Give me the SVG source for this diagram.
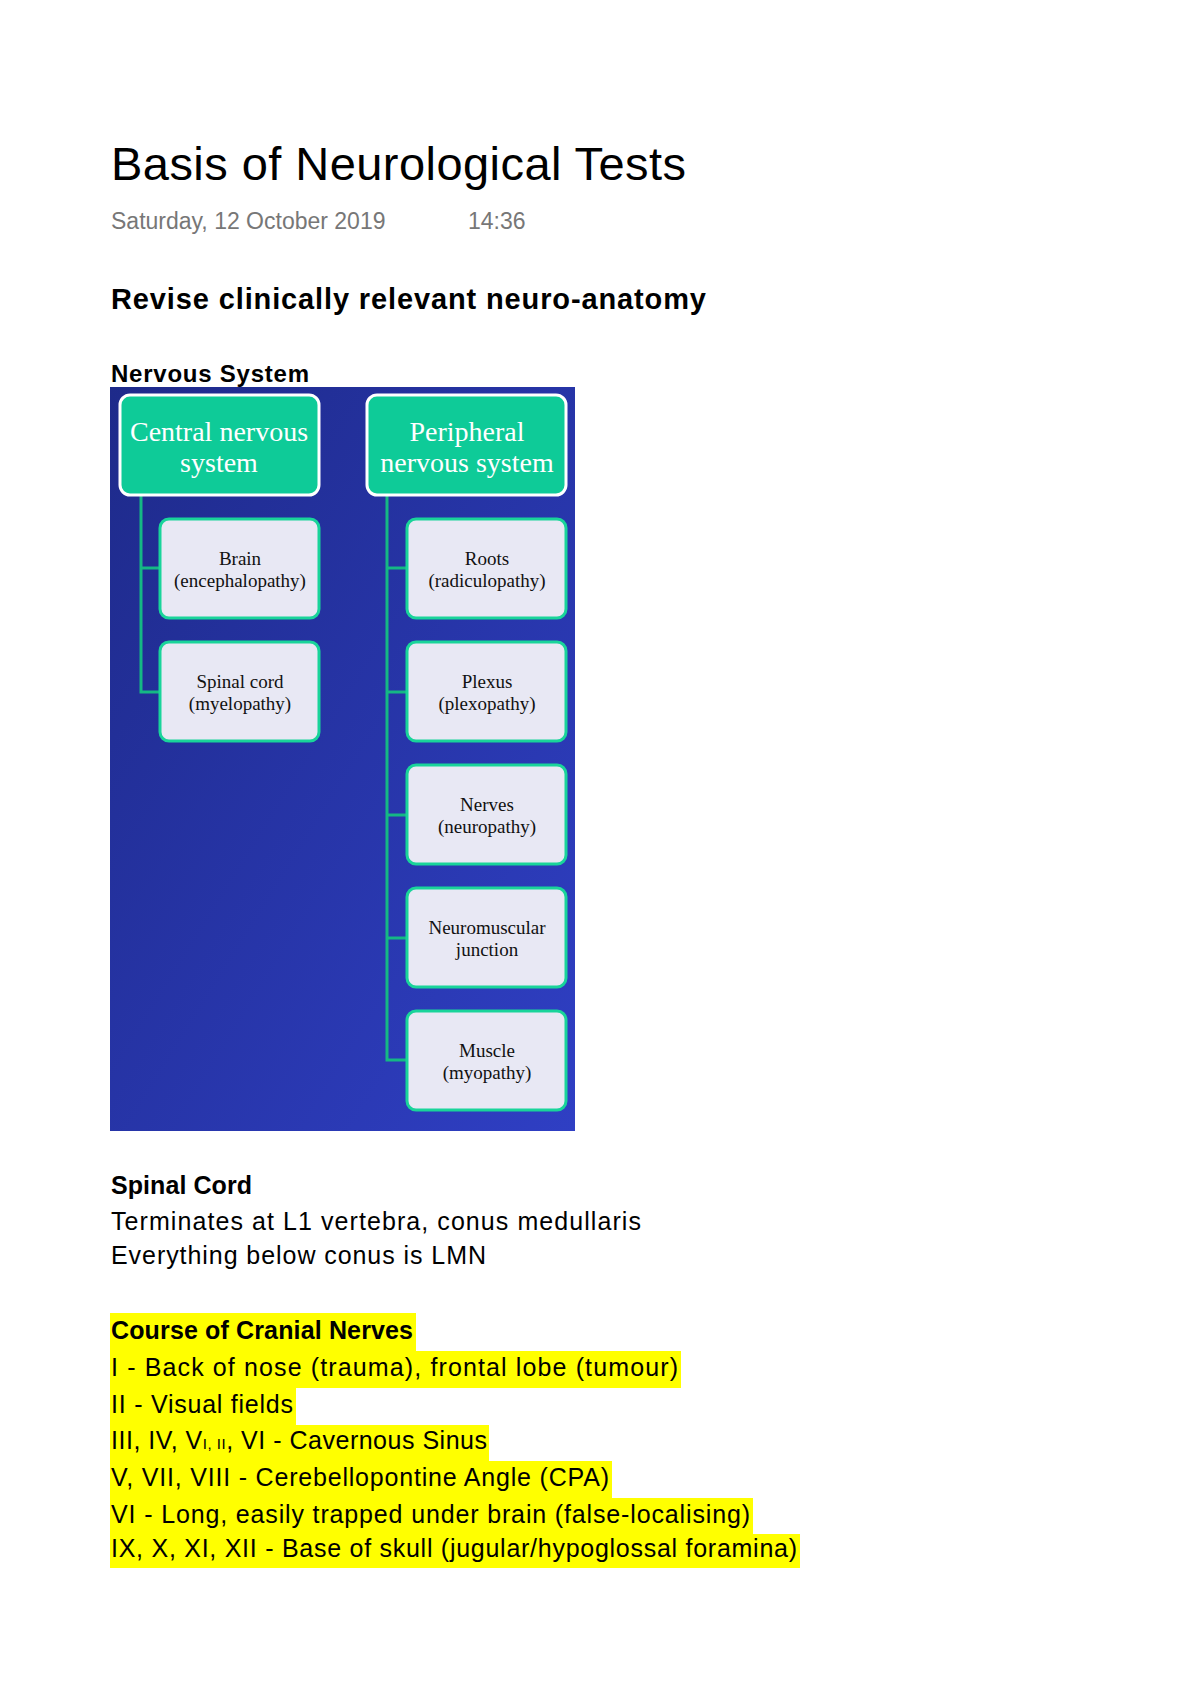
<svg xmlns="http://www.w3.org/2000/svg" width="1200" height="1698" viewBox="0 0 1200 1698">
<defs>
<linearGradient id="bg" x1="0" y1="0" x2="1" y2="1"><stop offset="0" stop-color="#1e2a8a"/><stop offset="1" stop-color="#2f3fc4"/></linearGradient>
<style>
.t{font-family:"Liberation Sans",Arial,sans-serif;fill:#000}
.hdr{fill:#0ecb98;stroke:#fff;stroke-width:3}
.chd{fill:#e8e8f4;stroke:#19d49a;stroke-width:3}
.ht{font-family:"Liberation Serif","Times New Roman",serif;fill:#fff;font-size:28px;text-anchor:middle}
.ct{font-family:"Liberation Serif","Times New Roman",serif;fill:#111;font-size:19px;text-anchor:middle}
.hl{fill:#ffff00}
.c{font-size:25px}
</style>
</defs>
<rect width="1200" height="1698" fill="#fff"/>
<text class="t" x="111" y="180" font-size="47" fill="#222" textLength="575">Basis of Neurological Tests</text>
<text class="t" x="111" y="229" font-size="23" style="fill:#777">Saturday, 12 October 2019</text>
<text class="t" x="468" y="229" font-size="23" style="fill:#777">14:36</text>
<text class="t" x="111" y="309" font-size="29" font-weight="bold" textLength="595">Revise clinically relevant neuro-anatomy</text>
<text class="t" x="111" y="382" font-size="24" font-weight="bold" textLength="198">Nervous System</text>
<rect x="110" y="387" width="465" height="744" fill="url(#bg)"/>
<g id="connectors" stroke="#15b884" stroke-width="3" fill="none">
<path d="M141 495V692H160M141 568H160"/>
<path d="M387 495V1060H407M387 568H407M387 692H407M387 815H407M387 938H407"/>
</g>
<g id="cns"><rect class="hdr" x="120" y="395" width="199" height="100" rx="10"/><text class="ht" x="219" y="441">Central nervous</text><text class="ht" x="219" y="472">system</text></g>
<g id="pns"><rect class="hdr" x="367" y="395" width="199" height="100" rx="10"/><text class="ht" x="467" y="441">Peripheral</text><text class="ht" x="467" y="472">nervous system</text></g>
<g id="brain"><rect class="chd" x="160" y="519" width="159" height="99" rx="9"/><text class="ct" x="240" y="565">Brain</text><text class="ct" x="240" y="587">(encephalopathy)</text></g>
<g id="spinal"><rect class="chd" x="160" y="642" width="159" height="99" rx="9"/><text class="ct" x="240" y="688">Spinal cord</text><text class="ct" x="240" y="710">(myelopathy)</text></g>
<g id="roots"><rect class="chd" x="407" y="519" width="159" height="99" rx="9"/><text class="ct" x="487" y="565">Roots</text><text class="ct" x="487" y="587">(radiculopathy)</text></g>
<g id="plexus"><rect class="chd" x="407" y="642" width="159" height="99" rx="9"/><text class="ct" x="487" y="688">Plexus</text><text class="ct" x="487" y="710">(plexopathy)</text></g>
<g id="nerves"><rect class="chd" x="407" y="765" width="159" height="99" rx="9"/><text class="ct" x="487" y="811">Nerves</text><text class="ct" x="487" y="833">(neuropathy)</text></g>
<g id="nmj"><rect class="chd" x="407" y="888" width="159" height="99" rx="9"/><text class="ct" x="487" y="934">Neuromuscular</text><text class="ct" x="487" y="956">junction</text></g>
<g id="muscle"><rect class="chd" x="407" y="1011" width="159" height="99" rx="9"/><text class="ct" x="487" y="1057">Muscle</text><text class="ct" x="487" y="1079">(myopathy)</text></g>
<text class="t" x="111" y="1194" font-size="25" font-weight="bold" textLength="141">Spinal Cord</text>
<text class="t c" x="111" y="1230" textLength="530">Terminates at L1 vertebra, conus medullaris</text>
<text class="t c" x="111" y="1264" textLength="375">Everything below conus is LMN</text>
<rect class="hl" x="110" y="1313" width="306" height="38"/>
<rect class="hl" x="110" y="1351" width="571" height="37"/>
<rect class="hl" x="110" y="1388" width="186" height="37"/>
<rect class="hl" x="110" y="1425" width="379" height="36"/>
<rect class="hl" x="110" y="1461" width="502" height="37"/>
<rect class="hl" x="110" y="1498" width="643" height="36"/>
<rect class="hl" x="110" y="1534" width="690" height="34"/>
<text class="t c" x="111" y="1339" font-weight="bold" textLength="302">Course of Cranial Nerves</text>
<text class="t c" x="111" y="1376" textLength="567">I - Back of nose (trauma), frontal lobe (tumour)</text>
<text class="t c" x="111" y="1413" textLength="182">II - Visual fields</text>
<text class="t c" x="111" y="1449" textLength="376">III, IV, V<tspan font-size="15">I, II</tspan>, VI - Cavernous Sinus</text>
<text class="t c" x="111" y="1486" textLength="498">V, VII, VIII - Cerebellopontine Angle (CPA)</text>
<text class="t c" x="111" y="1523" textLength="639">VI - Long, easily trapped under brain (false-localising)</text>
<text class="t c" x="111" y="1557" textLength="686">IX, X, XI, XII - Base of skull (jugular/hypoglossal foramina)</text>
</svg>
